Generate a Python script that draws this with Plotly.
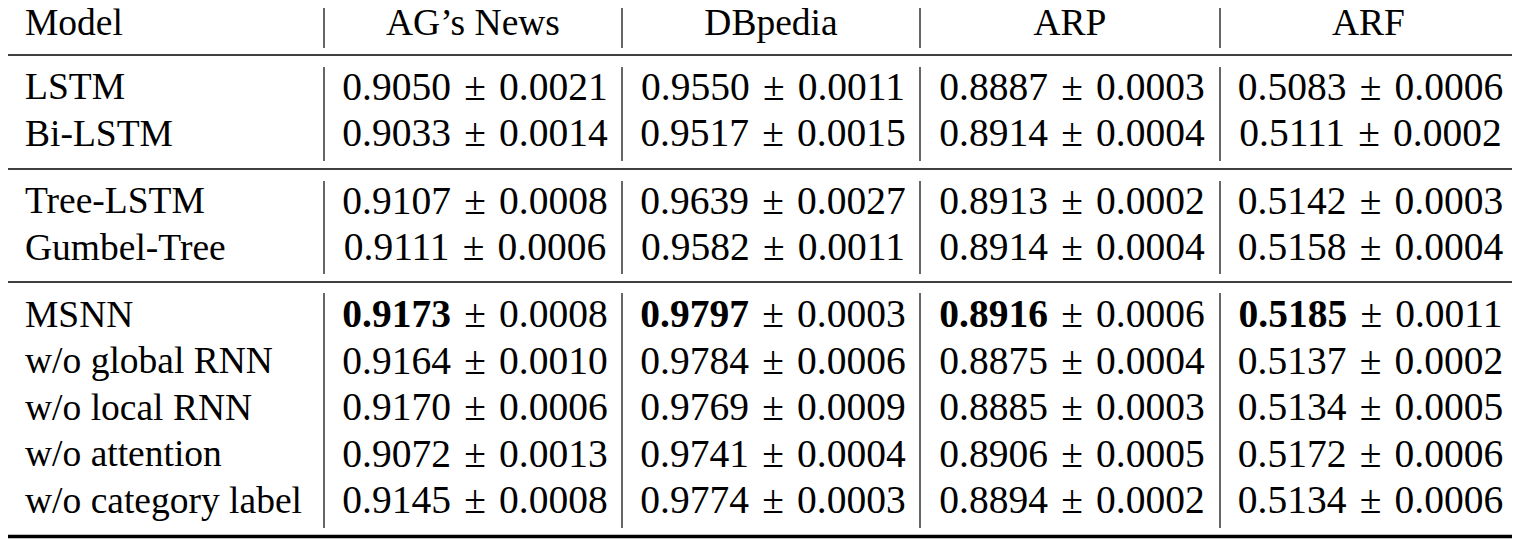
import plotly.graph_objects as go

# table content
columns = ["Model", "AG’s News", "DBpedia", "ARP", "ARF"]
models = ["LSTM", "Bi-LSTM", "Tree-LSTM", "Gumbel-Tree", "MSNN",
          "w/o global RNN", "w/o local RNN", "w/o attention", "w/o category label"]
groups = [0, 0, 1, 1, 2, 2, 2, 2, 2]

ag_mean = ["0.9050", "0.9033", "0.9107", "0.9111", "0.9173", "0.9164", "0.9170", "0.9072", "0.9145"]
ag_std = ["0.0021", "0.0014", "0.0008", "0.0006", "0.0008", "0.0010", "0.0006", "0.0013", "0.0008"]
db_mean = ["0.9550", "0.9517", "0.9639", "0.9582", "0.9797", "0.9784", "0.9769", "0.9741", "0.9774"]
db_std = ["0.0011", "0.0015", "0.0027", "0.0011", "0.0003", "0.0006", "0.0009", "0.0004", "0.0003"]
arp_mean = ["0.8887", "0.8914", "0.8913", "0.8914", "0.8916", "0.8875", "0.8885", "0.8906", "0.8894"]
arp_std = ["0.0003", "0.0004", "0.0002", "0.0004", "0.0006", "0.0004", "0.0003", "0.0005", "0.0002"]
arf_mean = ["0.5083", "0.5111", "0.5142", "0.5158", "0.5185", "0.5137", "0.5134", "0.5172", "0.5134"]
arf_std = ["0.0006", "0.0002", "0.0003", "0.0004", "0.0011", "0.0002", "0.0005", "0.0006", "0.0006"]
best_row = 4  # bold means

FONT = "Liberation Serif, Times New Roman, serif"
SIZE = 37.5
NUM_SIZE = 39.5  # math digits come out a little wider in the original

# the page body has an 8px margin, so the axes map data units to page pixels
PAGE_OFF = 8
edges = [4, 324, 622, 920, 1220, 1517]
text_shift = 2
header_y = 24 + text_shift
first_y = 88 + text_shift
pitch = 46.4
group_gap = 21
left_x = 25

row_y = [first_y + pitch * i + group_gap * g for i, g in enumerate(groups)]

fig = go.Figure()

# header
centers = [(edges[i] + edges[i + 1]) / 2 for i in range(len(edges) - 1)]
fig.add_trace(go.Scatter(x=[left_x], y=[header_y], text=[columns[0]], mode="text",
                         textposition="middle right", cliponaxis=False,
                         textfont=dict(family=FONT, size=SIZE, color="black")))
fig.add_trace(go.Scatter(x=centers[1:], y=[header_y] * 4, text=columns[1:], mode="text",
                         textposition="middle center", cliponaxis=False,
                         textfont=dict(family=FONT, size=SIZE, color="black")))

# model names
fig.add_trace(go.Scatter(x=[left_x] * len(models), y=row_y, text=models, mode="text",
                         textposition="middle right", cliponaxis=False,
                         textfont=dict(family=FONT, size=SIZE, color="black")))

# value columns
pm = " \u200a±\u200a "
for ci, (means, stds) in enumerate([(ag_mean, ag_std), (db_mean, db_std),
                                    (arp_mean, arp_std), (arf_mean, arf_std)]):
    texts = []
    for r, (m, s) in enumerate(zip(means, stds)):
        mtxt = "<b>%s</b>" % m if r == best_row else m
        texts.append(mtxt + pm + s)
    fig.add_trace(go.Scatter(x=[centers[ci + 1] + 2] * len(texts), y=row_y, text=texts,
                             mode="text", textposition="middle center", cliponaxis=False,
                             textfont=dict(family=FONT, size=NUM_SIZE, color="black")))

# horizontal rules
rules = [(55, 1.5), (169, 1.5), (282, 1.5), (536.5, 3.5)]
for y, w in rules:
    fig.add_shape(type="line", x0=edges[0], x1=edges[-1], y0=y, y1=y,
                  line=dict(color="black", width=w))

# vertical separators per block
blocks = [(2, 48), (67, 161), (181, 274), (293, 528)]
for y0, y1 in blocks:
    for x in edges[1:-1]:
        fig.add_shape(type="line", x0=x, x1=x, y0=y0, y1=y1,
                      line=dict(color="black", width=1.2))

fig.update_layout(
    width=1520 - PAGE_OFF, height=540 - PAGE_OFF,
    margin=dict(l=0, r=0, t=0, b=0),
    paper_bgcolor="white", plot_bgcolor="white",
    showlegend=False,
    xaxis=dict(range=[PAGE_OFF, 1520], visible=False, fixedrange=True),
    yaxis=dict(range=[540, PAGE_OFF], visible=False, fixedrange=True),
)

fig.write_html("out.html")
